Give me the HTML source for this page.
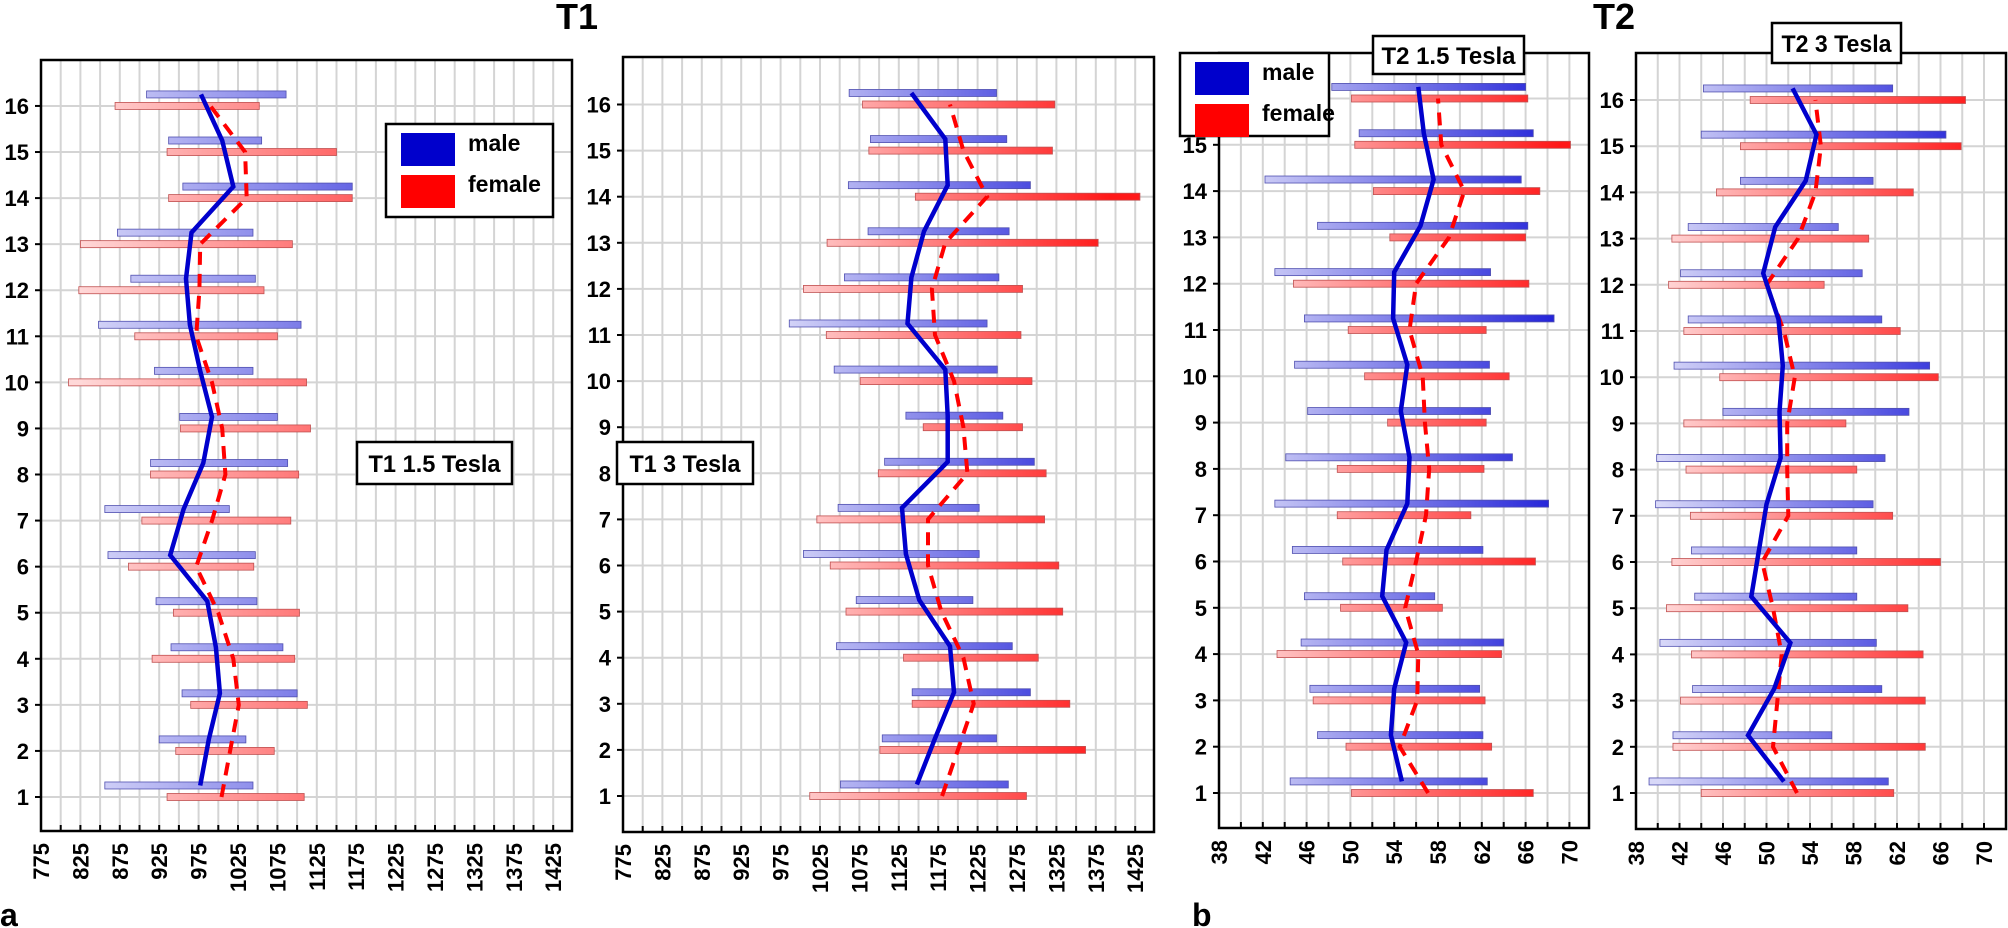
<!DOCTYPE html>
<html><head><meta charset="utf-8"><style>
html,body{margin:0;padding:0;background:#fff;}
svg{display:block;font-family:"Liberation Sans",Arial,sans-serif;font-weight:bold;}
</style></head><body>
<svg id="chart" width="2008" height="928" viewBox="0 0 2008 928" xmlns="http://www.w3.org/2000/svg">
<defs>
<linearGradient id="gm0" gradientUnits="userSpaceOnUse" x1="80" x2="520"><stop offset="0" stop-color="#d8d8f8"/><stop offset="1" stop-color="#2020d8"/></linearGradient>
<linearGradient id="gf0" gradientUnits="userSpaceOnUse" x1="80" x2="520"><stop offset="0" stop-color="#ffd8d8"/><stop offset="1" stop-color="#ff1818"/></linearGradient>
<linearGradient id="gm1" gradientUnits="userSpaceOnUse" x1="780" x2="1110"><stop offset="0" stop-color="#d8d8f8"/><stop offset="1" stop-color="#2020d8"/></linearGradient>
<linearGradient id="gf1" gradientUnits="userSpaceOnUse" x1="780" x2="1110"><stop offset="0" stop-color="#ffd8d8"/><stop offset="1" stop-color="#ff1818"/></linearGradient>
<linearGradient id="gm2" gradientUnits="userSpaceOnUse" x1="1240" x2="1560"><stop offset="0" stop-color="#d8d8f8"/><stop offset="1" stop-color="#2020d8"/></linearGradient>
<linearGradient id="gf2" gradientUnits="userSpaceOnUse" x1="1240" x2="1560"><stop offset="0" stop-color="#ffd8d8"/><stop offset="1" stop-color="#ff1818"/></linearGradient>
<linearGradient id="gm3" gradientUnits="userSpaceOnUse" x1="1660" x2="1980"><stop offset="0" stop-color="#d8d8f8"/><stop offset="1" stop-color="#2020d8"/></linearGradient>
<linearGradient id="gf3" gradientUnits="userSpaceOnUse" x1="1660" x2="1980"><stop offset="0" stop-color="#ffd8d8"/><stop offset="1" stop-color="#ff1818"/></linearGradient>
</defs>
<text x="577" y="29" font-size="36" text-anchor="middle">T1</text>
<text x="1614" y="29" font-size="36" text-anchor="middle">T2</text>
<text x="0" y="926" font-size="32">a</text>
<text x="1192" y="926" font-size="32">b</text>
</svg>
<script>
var rows = [1,2,3,4,5,6,7,8,9,10,11,12,13,14,15,16];
// T1 1.5 Tesla
var p1MaleLo  = [856,925,954,940,921,860,856,914,951,919,848,889,872,955,937,909];
var p1MaleHi  = [1044,1035,1100,1082,1049,1047,1014,1088,1075,1044,1105,1047,1044,1170,1055,1086];
var p1FemLo   = [935,946,965,916,943,886,903,914,952,810,894,823,825,937,935,869];
var p1FemHi   = [1109,1071,1113,1097,1103,1045,1092,1102,1117,1112,1075,1058,1094,1170,1150,1052];
var p1MaleMean= [977,988,1002,997,986,939,956,981,992,977,964,959,966,1019,1005,978];
var p1FemMean = [1004,1015,1026,1019,1000,972,992,1009,1005,992,972,976,977,1036,1034,990];
// T1 3 Tesla
var p2MaleLo  = [1051,1104,1142,1046,1071,1004,1048,1107,1134,1043,986,1056,1086,1061,1089,1062];
var p2MaleHi  = [1264,1249,1292,1269,1219,1227,1227,1297,1257,1250,1237,1252,1265,1292,1262,1249];
var p2FemLo   = [1012,1101,1142,1131,1058,1038,1021,1099,1156,1076,1033,1004,1034,1146,1087,1079];
var p2FemHi   = [1287,1362,1342,1302,1333,1328,1310,1312,1282,1294,1280,1282,1378,1431,1320,1323];
var p2MaleMean= [1148,1171,1195,1190,1151,1134,1129,1187,1187,1184,1136,1141,1157,1187,1184,1141];
var p2FemMean = [1180,1200,1220,1207,1179,1162,1162,1212,1207,1195,1171,1167,1184,1237,1207,1190];
// T2 1.5 Tesla
var p3MaleLo  = [44.5,47.0,46.3,45.5,45.8,44.7,43.1,44.1,46.1,44.9,45.8,43.1,47.0,42.2,50.8,48.3];
var p3MaleHi  = [62.5,62.1,61.8,64.0,57.7,62.1,68.1,64.8,62.8,62.7,68.6,62.8,66.2,65.6,66.7,66.0];
var p3FemLo   = [50.1,49.6,46.6,43.3,49.1,49.3,48.8,48.8,53.4,51.3,49.8,44.8,53.6,52.1,50.4,50.1];
var p3FemHi   = [66.7,62.9,62.3,63.8,58.4,66.9,61.0,62.2,62.4,64.5,62.4,66.3,66.0,67.3,70.1,66.2];
var p3MaleMean= [54.7,53.7,54.0,55.1,52.9,53.3,55.2,55.4,54.6,55.2,53.9,54.0,56.4,57.6,56.7,56.2];
var p3FemMean = [57.1,54.5,56.1,56.2,55.0,56.0,56.9,57.2,56.8,56.6,55.4,56.0,59.0,60.4,58.3,58.0];
// T2 3 Tesla
var p4MaleLo  = [39.2,41.4,43.2,40.2,43.4,43.1,39.8,39.9,46.0,41.5,42.8,42.1,42.8,47.6,44.0,44.2];
var p4MaleHi  = [61.2,56.0,60.6,60.1,58.3,58.3,59.8,60.9,63.1,65.0,60.6,58.8,56.6,59.8,66.5,61.6];
var p4FemLo   = [44.0,41.4,42.1,43.1,40.8,41.3,43.0,42.6,42.4,45.7,42.4,41.0,41.3,45.4,47.6,48.5];
var p4FemHi   = [61.7,64.6,64.6,64.4,63.0,66.0,61.6,58.3,57.3,65.8,62.3,55.3,59.4,63.5,67.9,68.3];
var p4MaleMean= [51.6,48.3,50.7,52.2,48.6,49.3,50.0,51.3,51.2,51.5,51.1,49.7,50.8,53.6,54.6,52.4];
var p4FemMean = [52.8,50.6,51.0,51.4,50.6,49.6,52.0,51.9,51.9,52.6,51.6,50.0,52.9,54.5,55.0,54.5];
var t1Ticks = [775,825,875,925,975,1025,1075,1125,1175,1225,1275,1325,1375,1425];
var t2Ticks = [38,42,46,50,54,58,62,66,70];

var NS = 'http://www.w3.org/2000/svg';
var svg = document.getElementById('chart');
function mk(tag, attrs, parent, txt) {
  var e = document.createElementNS(NS, tag);
  for (var k in attrs) e.setAttribute(k, attrs[k]);
  if (txt !== undefined) e.textContent = txt;
  (parent || svg).appendChild(e);
  return e;
}
var panels = [
  {id:'t1-15', L:41, R:572, T:60, B:831, v0:775, ppu:0.788, y1:797, ypu:46.07, grid:25, ticks:t1Ticks,
   mLo:p1MaleLo, mHi:p1MaleHi, fLo:p1FemLo, fHi:p1FemHi, mM:p1MaleMean, fM:p1FemMean, g:0},
  {id:'t1-3', L:623, R:1154, T:57, B:832, v0:775, ppu:0.788, y1:796, ypu:46.1, grid:25, ticks:t1Ticks,
   mLo:p2MaleLo, mHi:p2MaleHi, fLo:p2FemLo, fHi:p2FemHi, mM:p2MaleMean, fM:p2FemMean, g:1},
  {id:'t2-15', L:1219, R:1589, T:53, B:828, v0:38, ppu:10.95, y1:793, ypu:46.3, grid:2, ticks:t2Ticks,
   mLo:p3MaleLo, mHi:p3MaleHi, fLo:p3FemLo, fHi:p3FemHi, mM:p3MaleMean, fM:p3FemMean, g:2},
  {id:'t2-3', L:1636, R:2006, T:53, B:829, v0:38, ppu:10.875, y1:793, ypu:46.2, grid:2, ticks:t2Ticks,
   mLo:p4MaleLo, mHi:p4MaleHi, fLo:p4FemLo, fHi:p4FemHi, mM:p4MaleMean, fM:p4FemMean, g:3}
];
panels.forEach(function(p){
  var g = mk('g', {});
  
  
  function X(v){ return p.L + (v - p.v0) * p.ppu; }
  function Y(r){ return p.y1 - (r - 1) * p.ypu; }
  var vmax = p.v0 + (p.R - p.L) / p.ppu;
  // grid
  var grid = mk('g', {stroke:'#d4d4d4', 'stroke-width':2}, g);
  
  
  for (var v = p.v0 + p.grid; v < vmax - 1; v += p.grid) {
    mk('line', {x1:X(v), x2:X(v), y1:p.T, y2:p.B}, grid);
  }
  rows.forEach(function(r){ mk('line', {x1:p.L, x2:p.R, y1:Y(r), y2:Y(r)}, grid); });
  // ticks
  var tk = mk('g', {stroke:'#000', 'stroke-width':2}, g);
  for (var v2 = p.v0 + p.grid; v2 < vmax - 1; v2 += p.grid) {
    mk('line', {x1:X(v2), x2:X(v2), y1:p.B, y2:p.B - 6}, tk);
  }
  rows.forEach(function(r){ mk('line', {x1:p.L - 6, x2:p.L, y1:Y(r), y2:Y(r)}, tk); });
  // bars
  for (var i = 0; i < rows.length; i++) {
    var r = rows[i];
    var mb = mk('rect', {x:X(p.mLo[i]), y:Y(r + 0.25) - 3.5, width:X(p.mHi[i]) - X(p.mLo[i]), height:7,
      fill:'url(#gm' + p.g + ')', stroke:'#5050b0', 'stroke-width':0.8}, g);
    
    
    var fb = mk('rect', {x:X(p.fLo[i]), y:Y(r) - 3.5, width:X(p.fHi[i]) - X(p.fLo[i]), height:7,
      fill:'url(#gf' + p.g + ')', stroke:'#c05050', 'stroke-width':0.8}, g);
    
    
  }
  // lines
  var fp = rows.map(function(r, i){ return X(p.fM[i]).toFixed(1) + ',' + Y(r).toFixed(1); }).join(' ');
  var fl = mk('polyline', {points:fp, fill:'none', stroke:'#ff0000', 'stroke-width':4, 'stroke-dasharray':'13 9'}, g);
  
  
  var mp = rows.map(function(r, i){ return X(p.mM[i]).toFixed(1) + ',' + Y(r + 0.25).toFixed(1); }).join(' ');
  var ml = mk('polyline', {points:mp, fill:'none', stroke:'#0000cc', 'stroke-width':4.5, 'stroke-linejoin':'miter'}, g);
  
  
  // frame
  var fr = mk('rect', {x:p.L, y:p.T, width:p.R - p.L, height:p.B - p.T, fill:'none', stroke:'#000', 'stroke-width':2.5}, g);
  
  
  // y labels
  rows.forEach(function(r){
    var t = mk('text', {x:p.L - 12, y:Y(r) + 8, 'font-size':22, 'text-anchor':'end'}, g, String(r));
    
    
  });
  // x labels
  p.ticks.forEach(function(v){
    var x = X(v) + 8, y = p.B + 12;
    var t = mk('text', {x:x, y:y, 'font-size':22, 'text-anchor':'end', transform:'rotate(-90 ' + x + ' ' + y + ')'}, g, String(v));
    
    
  });
});
function titleBox(name, x, y, w, h, label, tl) {
  var g = mk('g', {});
  
  
  mk('rect', {x:x, y:y, width:w, height:h, fill:'#fff', stroke:'#000', 'stroke-width':2.5}, g);
  mk('text', {x:x + w / 2, y:y + h / 2 + 9, 'font-size':24, 'text-anchor':'middle', textLength:tl, lengthAdjust:'spacingAndGlyphs'}, g, label);
}
titleBox('title-t1-15', 357, 442, 155, 42, 'T1 1.5 Tesla', 132);
titleBox('title-t1-3', 617, 442, 136, 42, 'T1 3 Tesla', 111);
titleBox('title-t2-15', 1373, 36, 151, 38, 'T2 1.5 Tesla', 134);
titleBox('title-t2-3', 1772, 23, 129, 40, 'T2 3 Tesla', 110);
function legend(name, x, y, w, h) {
  var g = mk('g', {});
  
  
  mk('rect', {x:x, y:y, width:w, height:h, fill:'#fff', stroke:'#000', 'stroke-width':2.5}, g);
  var s1 = mk('rect', {x:x + 15, y:y + 9, width:54, height:33, fill:'#0000cc'}, g);
  
  
  var s2 = mk('rect', {x:x + 15, y:y + 51, width:54, height:33, fill:'#ff0000'}, g);
  
  
  mk('text', {x:x + 82, y:y + 27, 'font-size':23}, g, 'male');
  mk('text', {x:x + 82, y:y + 68, 'font-size':23}, g, 'female');
}
legend('legend-t1', 386, 124, 167, 93);
legend('legend-t2', 1180, 53, 149, 83);
</script>
</body></html>
